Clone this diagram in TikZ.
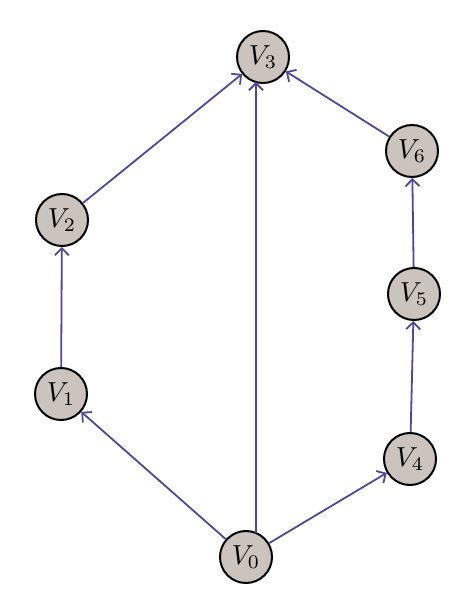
\documentclass[tikz,border=0pt]{standalone}
\usepackage{graphicx}
\usetikzlibrary{arrows.meta}
\definecolor{edgecol}{RGB}{78,70,160}
\definecolor{nodefill}{RGB}{202,195,190}
\newcommand{\vlab}[1]{\scalebox{2.75}{$V_{#1}$}}
\begin{document}
\begin{tikzpicture}[x=1pt,y=1pt,
  vert/.style={circle,draw=black,line width=2pt,fill=nodefill,minimum size=52pt,inner sep=0pt},
  edge/.style={draw=edgecol,line width=1.8pt,-{Straight Barb[length=7pt,width=14pt,line width=1.8pt]}}]
\useasboundingbox (0,0) rectangle (474,614);
\node[vert] (v3) at (263,557) {\vlab{3}};
\node[vert] (v2) at (62,394) {\vlab{2}};
\node[vert] (v1) at (61,220) {\vlab{1}};
\node[vert] (v0) at (246,57) {\vlab{0}};
\node[vert] (v4) at (410,155) {\vlab{4}};
\node[vert] (v5) at (414,320) {\vlab{5}};
\node[vert] (v6) at (412,463) {\vlab{6}};
\path (v0) ++(10,24) coordinate (a0);
\path (v3) ++(-7,-25) coordinate (a3);
\draw[edge] (v0) -- (v1);
\draw[edge] (v1) -- (v2);
\draw[edge] (v2) -- (v3);
\draw[edge] (a0) -- (a3);
\draw[edge] (v0) -- (v4);
\draw[edge] (v4) -- (v5);
\draw[edge] (v5) -- (v6);
\draw[edge] (v6) -- (v3);
\end{tikzpicture}
\end{document}
